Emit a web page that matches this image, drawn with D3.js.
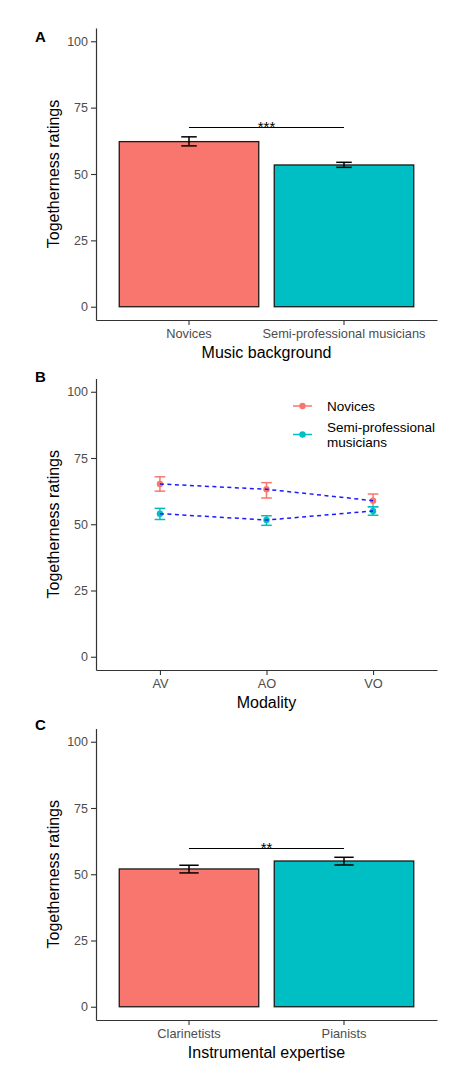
<!DOCTYPE html>
<html>
<head>
<meta charset="utf-8">
<script src="https://cdn.jsdelivr.net/npm/d3@7"></script>
<style>
  html, body { margin: 0; padding: 0; background: #fff; }
  svg { display: block; font-family: "Liberation Sans", Arial, sans-serif; }
</style>
</head>
<body>
<script>
// ---------- DATA ----------
const yTicks = [0, 25, 50, 75, 100];

// Panel A
const aCategories = ["Novices", "Semi-professional musicians"];
const aMeans = [62.2, 53.4];
const aLower = [60.6, 52.5];
const aUpper = [64.0, 54.4];
const aSigLevel = 67.5;
const aSigLabel = "***";

// Panel B
const bModalities = ["AV", "AO", "VO"];
const bGroups = ["Novices", "Semi-professional musicians"];
const bNovMeans = [65.2, 63.2, 58.9];
const bNovLower = [62.5, 59.9, 56.6];
const bNovUpper = [67.9, 65.7, 61.4];
const bSemiMeans = [54.0, 51.6, 55.0];
const bSemiLower = [51.8, 49.6, 53.4];
const bSemiUpper = [56.0, 53.2, 56.6];

// Panel C
const cCategories = ["Clarinetists", "Pianists"];
const cMeans = [52.0, 55.0];
const cLower = [50.5, 53.5];
const cUpper = [53.4, 56.4];
const cSigLevel = 59.7;
const cSigLabel = "**";

const colors = ["#F8766D", "#00BFC4"];

// ---------- LAYOUT ----------
const W = 474, H = 1073;
const svg = d3.select("body").append("svg").attr("width", W).attr("height", H);
svg.append("rect").attr("width", W).attr("height", H).attr("fill", "#fff");

const left = 96, right = 437;
const panels = [
  { top: 28, bottom: 320, letter: "A", letterY: 42, xTitle: "Music background" },
  { top: 378.5, bottom: 670, letter: "B", letterY: 382, xTitle: "Modality" },
  { top: 728.5, bottom: 1020, letter: "C", letterY: 730, xTitle: "Instrumental expertise" }
];

function frame(p, xScale) {
  const g = svg.append("g");
  const y = d3.scaleLinear().domain([-5, 105]).range([p.bottom, p.top]);
  // y axis
  const ya = g.append("g").attr("transform", `translate(${left},0)`)
    .call(d3.axisLeft(y).tickValues(yTicks).tickSize(5).tickSizeOuter(0).tickPadding(3));
  ya.select(".domain").attr("stroke", "#333").attr("stroke-width", 1.2);
  ya.selectAll(".tick line").attr("stroke", "#333").attr("stroke-width", 1.1);
  ya.selectAll(".tick text").attr("fill", "#4d4d4d").style("font-size", "12.5px");
  // x axis
  const xa = g.append("g").attr("transform", `translate(0,${p.bottom})`)
    .call(d3.axisBottom(xScale).tickSize(5).tickSizeOuter(0).tickPadding(4));
  xa.select(".domain").attr("stroke", "#333").attr("stroke-width", 1.2);
  xa.selectAll(".tick line").attr("stroke", "#333").attr("stroke-width", 1.1);
  xa.selectAll(".tick text").attr("fill", "#4d4d4d").style("font-size", "12.8px");
  // titles
  g.append("text").attr("x", (left + right) / 2).attr("y", p.bottom + 38)
    .attr("text-anchor", "middle").style("font-size", "16px").attr("fill", "#000")
    .text(p.xTitle);
  g.append("text")
    .attr("transform", `translate(59,${(p.top + p.bottom) / 2}) rotate(-90)`)
    .attr("text-anchor", "middle").style("font-size", "16px").attr("fill", "#000")
    .text("Togetherness ratings");
  g.append("text").attr("x", 40.5).attr("y", p.letterY).attr("text-anchor", "middle")
    .style("font-size", "15px").style("font-weight", "bold").attr("fill", "#000")
    .text(p.letter);
  return { g, y };
}

function barPanel(p, cats, means, lower, upper, sigLevel, sigLabel, capFrac) {
  const x = d3.scaleBand().domain(cats).range([left, right])
    .paddingInner(0.1).paddingOuter(0.15);
  const { g, y } = frame(p, x);
  const step = x.step();
  const data = cats.map((c, i) => ({ c, m: means[i], lo: lower[i], hi: upper[i], col: colors[i] }));
  g.selectAll("rect.bar").data(data).join("rect").attr("class", "bar")
    .attr("x", d => x(d.c)).attr("width", x.bandwidth())
    .attr("y", d => y(d.m)).attr("height", d => y(0) - y(d.m))
    .attr("fill", d => d.col).attr("stroke", "#1a1a1a").attr("stroke-width", 1.3);
  const cx = d => x(d.c) + x.bandwidth() / 2;
  const cw = capFrac * step / 2;
  const eb = g.selectAll("g.eb").data(data).join("g").attr("class", "eb")
    .attr("stroke", "#000").attr("stroke-width", 1.5).attr("fill", "none");
  eb.append("line").attr("x1", cx).attr("x2", cx).attr("y1", d => y(d.lo)).attr("y2", d => y(d.hi));
  eb.append("line").attr("x1", d => cx(d) - cw).attr("x2", d => cx(d) + cw).attr("y1", d => y(d.lo)).attr("y2", d => y(d.lo));
  eb.append("line").attr("x1", d => cx(d) - cw).attr("x2", d => cx(d) + cw).attr("y1", d => y(d.hi)).attr("y2", d => y(d.hi));
  // significance
  const x1 = cx(data[0]), x2 = cx(data[1]);
  g.append("line").attr("x1", x1).attr("x2", x2).attr("y1", y(sigLevel)).attr("y2", y(sigLevel))
    .attr("stroke", "#000").attr("stroke-width", 1.1);
  g.append("text").attr("x", (x1 + x2) / 2).attr("y", y(sigLevel) + 4.5)
    .attr("text-anchor", "middle").style("font-size", "15px").attr("fill", "#000").text(sigLabel);
}

barPanel(panels[0], aCategories, aMeans, aLower, aUpper, aSigLevel, aSigLabel, 0.1);

// Panel B
(function () {
  const p = panels[1];
  const x = d3.scalePoint().domain(bModalities).range([left, right]).padding(0.6);
  const { g, y } = frame(p, x);
  const series = [
    { name: bGroups[0], col: colors[0], vals: bModalities.map((m, i) => ({ m, v: bNovMeans[i], lo: bNovLower[i], hi: bNovUpper[i] })) },
    { name: bGroups[1], col: colors[1], vals: bModalities.map((m, i) => ({ m, v: bSemiMeans[i], lo: bSemiLower[i], hi: bSemiUpper[i] })) }
  ];
  const cw = 0.1 * x.step() / 2;
  series.forEach(s => {
    const sg = g.append("g");
    const eb = sg.selectAll("g").data(s.vals).join("g")
      .attr("stroke", s.col).attr("stroke-width", 1.5);
    eb.append("line").attr("x1", d => x(d.m)).attr("x2", d => x(d.m)).attr("y1", d => y(d.lo)).attr("y2", d => y(d.hi));
    eb.append("line").attr("x1", d => x(d.m) - cw).attr("x2", d => x(d.m) + cw).attr("y1", d => y(d.lo)).attr("y2", d => y(d.lo));
    eb.append("line").attr("x1", d => x(d.m) - cw).attr("x2", d => x(d.m) + cw).attr("y1", d => y(d.hi)).attr("y2", d => y(d.hi));
    sg.selectAll("circle").data(s.vals).join("circle")
      .attr("cx", d => x(d.m)).attr("cy", d => y(d.v)).attr("r", 3.2).attr("fill", s.col);
  });
  const line = d3.line().x(d => x(d.m)).y(d => y(d.v));
  series.forEach(s => {
    g.append("path").attr("d", line(s.vals)).attr("fill", "none")
      .attr("stroke", "#1a1aff").attr("stroke-width", 1.5).attr("stroke-dasharray", "4,3.5");
  });
  // legend
  const lg = g.append("g");
  const legendRows = [
    { col: colors[0], y: 406, lines: ["Novices"], ty: [406] },
    { col: colors[1], y: 434.5, lines: ["Semi-professional", "musicians"], ty: [427, 442.5] }
  ];
  legendRows.forEach(r => {
    lg.append("line").attr("x1", 293).attr("x2", 312).attr("y1", r.y).attr("y2", r.y)
      .attr("stroke", r.col).attr("stroke-width", 1.5);
    lg.append("circle").attr("cx", 302.5).attr("cy", r.y).attr("r", 3.2).attr("fill", r.col);
    r.lines.forEach((t, i) => {
      lg.append("text").attr("x", 327).attr("y", r.ty[i]).attr("dy", "0.35em")
        .style("font-size", "13.5px").attr("fill", "#000").text(t);
    });
  });
})();

barPanel(panels[2], cCategories, cMeans, cLower, cUpper, cSigLevel, cSigLabel, 0.125);
</script>
</body>
</html>
